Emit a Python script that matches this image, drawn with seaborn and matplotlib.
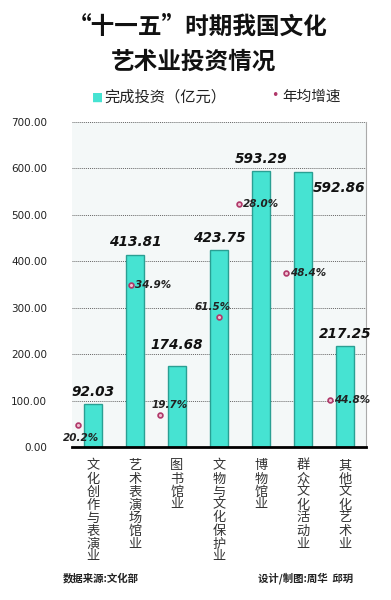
import numpy as np
import matplotlib
matplotlib.use("Agg")
import matplotlib.pyplot as plt
import pandas as pd
import seaborn as sns

# data
categories = ["文化创作与表演业", "艺术表演场馆业", "图书馆业", "文物与文化保护业",
              "博物馆业", "群众文化活动业", "其他文化艺术业"]
investment = [92.03, 413.81, 174.68, 423.75, 593.29, 592.86, 217.25]
growth_labels = ["20.2%", "34.9%", "19.7%", "61.5%", "28.0%", "48.4%", "44.8%"]
# height (in investment units) where each growth dot sits in the picture
growth_dot_level = [47, 349, 69, 280, 524, 375, 101]
y_ticks = [0, 100, 200, 300, 400, 500, 600, 700]

# layout only
dot_dx = [-0.36, -0.1, -0.4, 0.0, -0.52, -0.4, -0.36]

BAR = "#46e3d2"
EDGE = "#2a9f93"
DOT = "#b0386a"

sns.set_theme(style="white")
plt.rcParams["font.family"] = ["Noto Sans CJK SC", "DejaVu Sans"]

df = pd.DataFrame({"cat": categories, "val": investment})

fig = plt.figure(figsize=(3.91, 6.0), dpi=100)
ax = fig.add_axes([0.184, 0.255, 0.752, 0.542])
ax.set_facecolor("#f4f8f8")

sns.barplot(data=df, x="cat", y="val", ax=ax, color=BAR, width=0.42,
            edgecolor=EDGE, linewidth=1.0, saturation=1)

ax.set_ylim(0, 700)
ax.set_xlim(-0.5, len(categories) - 0.5)
ax.set_yticks(y_ticks)
ax.set_yticklabels([f"{v:.2f}" for v in y_ticks], fontsize=7.5, color="#222222",
                   family="DejaVu Sans")
ax.tick_params(axis="y", length=0, pad=18)
ax.grid(axis="y", linestyle=(0, (1, 1)), color="#666666", linewidth=0.7)
ax.set_axisbelow(True)
ax.set_xlabel("")
ax.set_ylabel("")

for s in ["top", "left"]:
    ax.spines[s].set_visible(False)
ax.spines["right"].set_color("#aaaaaa")
ax.spines["right"].set_linewidth(0.8)
ax.spines["bottom"].set_color("black")
ax.spines["bottom"].set_linewidth(2.0)

# ticks at category boundaries, pointing up
ax.set_xticks(np.arange(len(categories) + 1) - 0.5, minor=True)
ax.tick_params(axis="x", which="minor", direction="in", length=4, width=1.2, color="black")
ax.set_xticks(range(len(categories)))
ax.set_xticklabels(["\n".join(c) for c in categories], fontsize=9.5, color="#333333",
                   va="top", linespacing=1.0)
ax.tick_params(axis="x", which="major", length=0, pad=9)

# value labels
for i, v in enumerate(investment):
    x, y = i, v + 27
    if i == 2:
        y = v + 45
    if i == 5:
        x, y = i + 0.85, v - 36
    ax.text(x, y, f"{v:.2f}", ha="center", va="center", fontsize=9.8, fontweight="bold",
            style="italic", family="DejaVu Sans", color="#111111")

# growth dots and labels
xs = [i + d for i, d in enumerate(dot_dx)]
ax.scatter(xs, growth_dot_level, s=12, facecolor="#f0c0d0", edgecolor=DOT,
           linewidth=1.2, zorder=5)
for i, (x, y, lab) in enumerate(zip(xs, growth_dot_level, growth_labels)):
    if i == 0:
        tx, ty, ha = x + 0.07, y - 28, "center"
    elif i == 2:
        tx, ty, ha = x + 0.22, y + 22, "center"
    elif i == 3:
        tx, ty, ha = x - 0.15, y + 22, "center"
    else:
        tx, ty, ha = x + 0.1, y, "left"
    ax.text(tx, ty, lab, ha=ha, va="center", fontsize=7.5, style="italic",
            fontweight="semibold", family="DejaVu Sans", color="#222222", zorder=6)

# title
fig.text(0.505, 0.955, "“十一五”时期我国文化", ha="center", va="center",
         fontsize=17, fontweight="bold", color="#111111")
fig.text(0.495, 0.898, "艺术业投资情况", ha="center", va="center",
         fontsize=17, fontweight="bold", color="#111111")

# legend
fig.text(0.250, 0.838, "■", ha="center", va="center", fontsize=8.5, color=BAR,
         family="DejaVu Sans")
fig.text(0.268, 0.838, "完成投资（亿元）", ha="left", va="center", fontsize=11,
         color="#222222")
fig.text(0.703, 0.840, "•", ha="center", va="center", fontsize=9, color=DOT,
         family="DejaVu Sans")
fig.text(0.722, 0.838, "年均增速", ha="left", va="center", fontsize=10.5, color="#222222")

# footer
fig.text(0.16, 0.037, "数据来源:文化部", ha="left", va="center", fontsize=7.5,
         fontweight="bold", color="#222222")
fig.text(0.66, 0.037, "设计/制图:周华  邱玥", ha="left", va="center", fontsize=7.5,
         fontweight="bold", color="#222222")

fig.savefig("out.png", dpi=100, facecolor="white")
